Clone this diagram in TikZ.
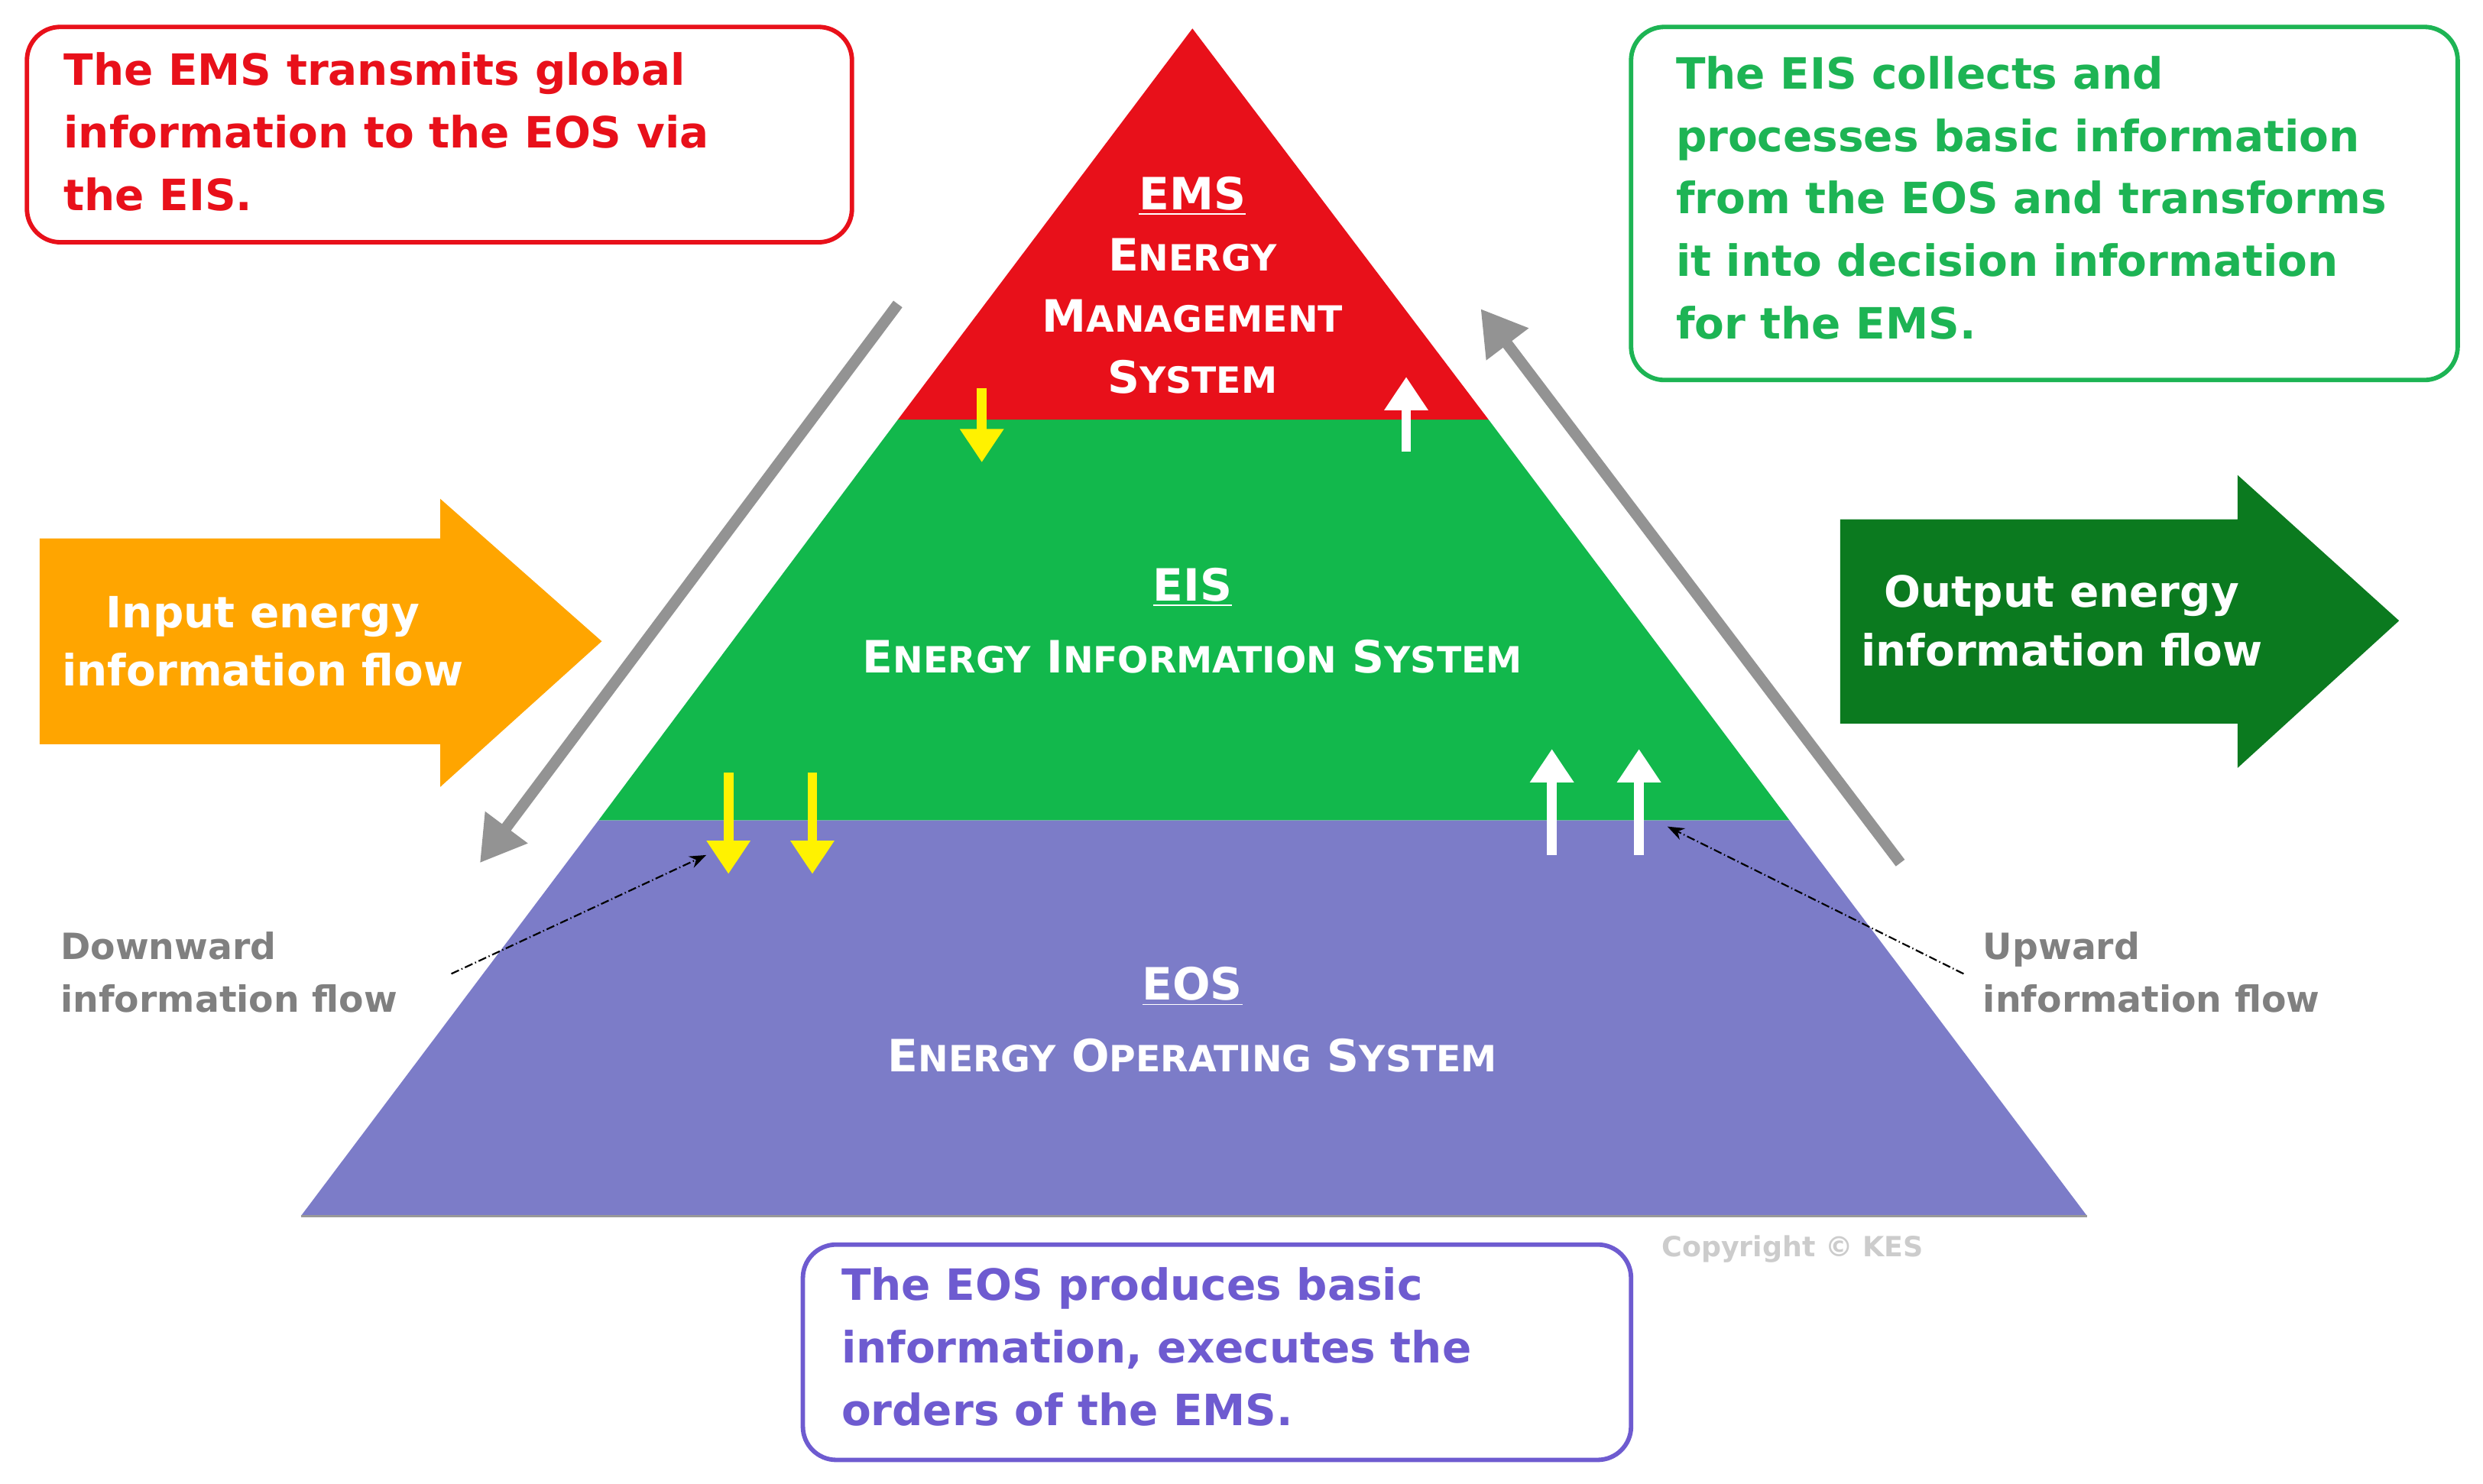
\documentclass[tikz,border=0pt]{standalone}
\usepackage{fontspec}
\setmainfont{DejaVu Sans}
\usetikzlibrary{arrows.meta,shapes.arrows}
\definecolor{emsred}{HTML}{E8101A}
\definecolor{eisgreen}{HTML}{12B84C}
\definecolor{eospurple}{HTML}{7C7CC8}
\definecolor{txtgreen}{HTML}{1DB454}
\definecolor{txtpurple}{HTML}{6E5BD0}
\definecolor{orng}{HTML}{FFA500}
\definecolor{dkgreen}{HTML}{0B7A1F}
\newcommand{\sca}[2]{#1{\fontsize{13}{15}\selectfont #2}}
\tikzset{
 box/.style={draw=#1,line width=1.6pt,rounded corners=12pt,fill=white},
 boxtxt/.style={text=#1,font=\bfseries\fontsize{15.5}{22.5}\selectfont,align=left,anchor=north west,inner sep=0pt},
 layertxt/.style={text=white,font=\bfseries\fontsize{16}{22}\selectfont,align=center},
 grayarr/.style={draw=gray!85,line width=4pt,-{Triangle[length=16pt,width=18pt]}},
 yarr/.style={draw=yellow,line width=3.5pt,-{Triangle[length=12pt,width=15pt]}},
 warr/.style={draw=white,line width=3.5pt,-{Triangle[length=12pt,width=15pt]}},
 dd/.style={densely dashdotted,line width=0.6pt,-{Stealth[length=6pt]}},
 side/.style={text=gray,font=\bfseries\fontsize{13}{19}\selectfont,align=left,anchor=north west,inner sep=0pt}
}
\begin{document}
\begin{tikzpicture}[x=0.02cm,y=-0.02cm]
\useasboundingbox (0,0) rectangle (1568,937);
% pyramid
\fill[eospurple] (378,518) -- (1130,518) -- (1318,768) -- (190,768) -- cycle;
\fill[eisgreen] (567,265) -- (940,265) -- (1130,518) -- (378,518) -- cycle;
\fill[emsred] (753,18) -- (940,265) -- (567,265) -- cycle;
\draw[black!40,line width=1pt] (190,768) -- (1318,768);
% layer texts
\node[layertxt] (ems) at (753,180) {\underline{EMS}\\\sca{E}{NERGY}\\\sca{M}{ANAGEMENT}\\\sca{S}{YSTEM}};
\node[layertxt] (eis) at (753,392) {\underline{EIS}\\[4pt]\sca{E}{NERGY} \sca{I}{NFORMATION} \sca{S}{YSTEM}};
\node[layertxt] (eos) at (753,644) {\underline{EOS}\\[4pt]\sca{E}{NERGY} \sca{O}{PERATING} \sca{S}{YSTEM}};
% boxes
\draw[box=emsred] (17,17) rectangle (538,153);
\node[boxtxt=emsred] (t1) at (40,33) {The EMS transmits global\\information to the EOS via\\the EIS.};
\draw[box=txtgreen] (1030,17) rectangle (1552,240);
\node[boxtxt=txtgreen] (t2) at (1058,35) {The EIS collects and\\processes basic information\\from the EOS and transforms\\it into decision information\\for the EMS.};
\draw[box=txtpurple] (507,786) rectangle (1030,922);
\node[boxtxt=txtpurple] (t3) at (531,800) {The EOS produces basic\\information, executes the\\orders of the EMS.};
% big arrows
\fill[orng] (25,340) -- (278,340) -- (278,315) -- (380,405) -- (278,497) -- (278,470) -- (25,470) -- cycle;
\node[text=white,font=\bfseries\fontsize{15.5}{21}\selectfont,align=center] (in) at (166,405) {Input energy\\information flow};
\fill[dkgreen] (1162,328) -- (1413,328) -- (1413,300) -- (1515,392) -- (1413,485) -- (1413,457) -- (1162,457) -- cycle;
\node[text=white,font=\bfseries\fontsize{15.5}{21}\selectfont,align=center] (out) at (1302,392) {Output energy\\information flow};
% gray arrows
\coordinate (g1s) at (567,192); \coordinate (g1e) at (303,545);
\coordinate (g2s) at (1200,545); \coordinate (g2e) at (935,195);
\draw[grayarr] (g1s) -- (g1e);
\draw[grayarr] (g2s) -- (g2e);
% small arrows
\draw[yarr] (620,245) -- (620,292);
\draw[yarr] (460,488) -- (460,552);
\draw[yarr] (513,488) -- (513,552);
\draw[warr] (888,285) -- (888,238);
\draw[warr] (980,540) -- (980,473);
\draw[warr] (1035,540) -- (1035,473);
% side labels
\node[side] (down) at (38,588) {Downward\\information flow};
\node[side] (up) at (1252,588) {Upward\\information flow};
\coordinate (d1) at (285,615); \coordinate (d2) at (446,540);
\coordinate (u1) at (1240,615); \coordinate (u2) at (1053,522);
\draw[dd] (d1) -- (d2);
\draw[dd] (u1) -- (u2);
\node[text=gray!40,font=\bfseries\fontsize{10}{12}\selectfont] (copy) at (1132,789) {Copyright © KES};
\end{tikzpicture}
\end{document}
